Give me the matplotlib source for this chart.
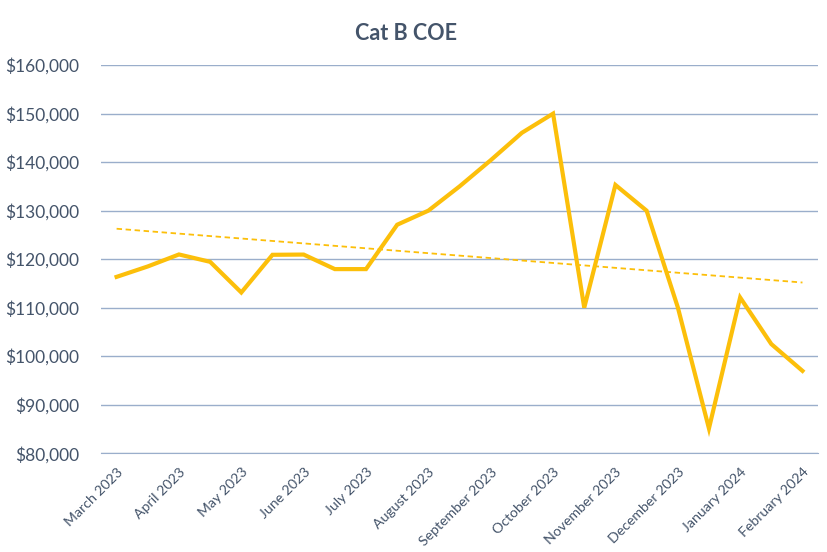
import numpy as np
import matplotlib.pyplot as plt
from matplotlib.ticker import FuncFormatter

# COE bidding results, Cat B (two exercises per month, one missing)
months = ["March 2023", "April 2023", "May 2023", "June 2023", "July 2023",
          "August 2023", "September 2023", "October 2023", "November 2023",
          "December 2023", "January 2024", "February 2024"]
premium = [116350, 118500, 120970, 119450, 113130, 120900, 120950, 117950,
           117950, 127100, 130000, 135000, 140400, 146050, 150000, 110000,
           135300, 130000, 110100, 85100, 112100, 102500, 96970]

text_col = "#44546A"
grid_col = "#9AAECB"
gold = "#FCBF0A"

plt.rcParams["font.family"] = ["Lato", "DejaVu Sans"]

fig = plt.figure(figsize=(8.28, 5.52), dpi=100)
ax = fig.add_axes([0.122, 0.179, 0.866, 0.703])

x = np.arange(len(premium))
ax.plot(x, premium, color=gold, lw=3.0, solid_joinstyle="miter", zorder=3)

# linear trendline
k, b = np.polyfit(x, premium, 1)
ax.plot(x, k * x + b, color=gold, lw=1.3, linestyle=(0, (3, 2)), zorder=2)

ax.set_xlim(-0.5, len(premium) - 0.5)
ax.set_ylim(80000, 160000)
ax.set_yticks(np.arange(80000, 160001, 10000))
ax.yaxis.set_major_formatter(FuncFormatter(lambda v, p: f"${v:,.0f}"))
ax.set_xticks(x[::2])
ax.set_xticklabels(months, rotation=45, ha="right", rotation_mode="anchor")

ax.grid(axis="y", color=grid_col, lw=1.0)
ax.set_axisbelow(True)
for s in ["top", "right", "left"]:
    ax.spines[s].set_visible(False)
ax.spines["bottom"].set_color(grid_col)
ax.tick_params(axis="both", length=0, colors=text_col)
ax.tick_params(axis="y", labelsize=12.5, pad=16)
ax.tick_params(axis="x", labelsize=10.2, pad=9)

fig.text(0.49, 0.94, "Cat B COE", ha="center", va="center",
         fontsize=15.5, fontweight="bold", color=text_col)

fig.savefig("out.png", dpi=100)
